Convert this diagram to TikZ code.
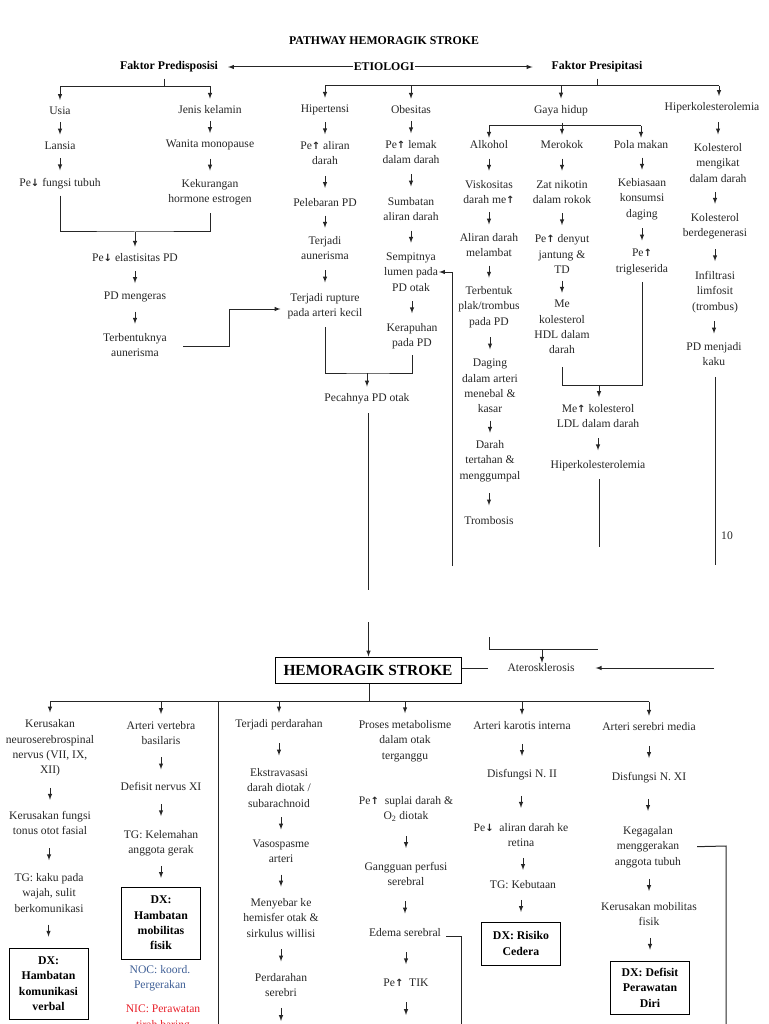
\documentclass[tikz,border=0pt]{standalone}
\usepackage{fontspec}
\setmainfont{Liberation Serif}
\newfontfamily\panahfont{DejaVu Sans}
\usetikzlibrary{calc}
\newcommand{\naik}{{\panahfont\bfseries\fontsize{10}{10}\selectfont ↑}}
\newcommand{\turun}{{\panahfont\bfseries\fontsize{10}{10}\selectfont ↓}}
\definecolor{tinta}{HTML}{262626}
\definecolor{nocblue}{HTML}{3F5F96}
\definecolor{nicred}{HTML}{E8202A}
\tikzset{
  teks/.style={align=center,inner sep=1pt,yshift=-1pt,text=tinta,font=\fontsize{11.6}{15.4}\selectfont},
  judul/.style={teks,text=black,font=\fontsize{11.8}{15.4}\selectfont\bfseries},
  kotak/.style={judul,yshift=1pt,draw,line width=1pt,minimum width=79pt},
  garis/.style={line width=1pt,draw=tinta},
  pan/.style={garis,->,>=latex},
  cab/.style={pan,shorten >=6pt},
  arr/.style={pan,to path={($(\tikztotarget.north)!.5!(\tikztotarget.north |- \tikztostart.south)+(0,-6)$)--++(0,12)}}
}
\begin{document}
\begin{tikzpicture}[x=1pt,y=-1pt]
\useasboundingbox (0,0) rectangle (768,1024);
\node[judul] (title) at (384,40) {PATHWAY HEMORAGIK STROKE};
\node[judul] (etio) at (384,66) {ETIOLOGI};
\node[judul] (predis) at (169,66) {Faktor Predisposisi};
\node[judul] (presi) at (597,66) {Faktor Presipitasi};
\draw[pan,shorten >=9pt] (etio.west)--(predis.east);
\draw[pan,shorten >=18pt] (etio.east)--(presi.west);

\node[teks] (usia) at (60,110) {Usia};
\node[teks] (lansia) at (60,145) {Lansia};
\node[teks] (fungsi) at (60,183) {Pe\turun{} fungsi tubuh};
\node[teks] (jenis) at (210,109) {Jenis kelamin};
\node[teks] (wanita) at (210,144) {Wanita monopause};
\node[teks] (kurang) at (210,191) {Kekurangan\\hormone estrogen};
\node[teks] (elastis) at (135,257) {Pe\turun{} elastisitas PD};
\node[teks] (keras) at (135,296) {PD mengeras};
\node[teks] (bentuk) at (135,344) {Terbentuknya\\aunerisma};
\coordinate (a1) at (164,87);
\coordinate (a2) at (135,232);
\coordinate (a3) at (229,346);
\draw[garis] ([yshift=-5pt]predis.south -| a1)--(a1);
\draw[cab] (a1)-|(usia.north);
\draw[cab] (a1)-|(jenis.north);
\draw[arr] (usia) to (lansia);
\draw[arr] (lansia) to (fungsi);
\draw[arr] (jenis) to (wanita);
\draw[arr] (wanita) to (kurang);
\draw[garis] ([yshift=-5pt]fungsi.south)|-(a2)-|([yshift=-7pt]kurang.south);
\draw[cab] (a2)--(a2 |- elastis.north);
\draw[arr] (elastis) to (keras);
\draw[arr] (keras) to (bentuk);

\node[teks] (hiper) at (325,109) {Hipertensi};
\node[teks] (aliran) at (325,152) {Pe\naik{} aliran\\darah};
\node[teks] (lebar) at (325,202) {Pelebaran PD};
\node[teks] (aune) at (325,247) {Terjadi\\aunerisma};
\node[teks] (rupture) at (325,305) {Terjadi rupture\\pada arteri kecil};
\node[teks] (obes) at (411,109) {Obesitas};
\node[teks] (lemak) at (411,151) {Pe\naik{} lemak\\dalam darah};
\node[teks] (sumbat) at (411,208) {Sumbatan\\aliran darah};
\node[teks] (sempit) at (411,271) {Sempitnya\\lumen pada\\PD otak};
\node[teks] (rapuh) at (412,335) {Kerapuhan\\pada PD};
\node[teks] (pecah) at (367,398) {Pecahnya PD otak};
\coordinate (b1) at (597,86);
\coordinate (b2) at (367,373);
\coordinate (b3) at (368.5,590);
\coordinate (b4) at (368.5,622);
\coordinate (b5) at (452,566);
\draw[pan,shorten <=15pt,shorten >=6pt] (bentuk.east |- a3)--(a3)|-([yshift=-3pt]rupture.west);
\draw[garis] ([yshift=-5pt]presi.south -| b1)--(b1);
\draw[cab] (b1)-|(hiper.north);
\draw[cab] (b1)-|(obes.north);
\draw[arr] (hiper) to (aliran);
\draw[arr] (aliran) to (lebar);
\draw[arr] (lebar) to (aune);
\draw[arr] (aune) to (rupture);
\draw[arr] (obes) to (lemak);
\draw[arr] (lemak) to (sumbat);
\draw[arr] (sumbat) to (sempit);
\draw[arr] (sempit) to (rapuh);
\draw[garis] ([yshift=-7pt]rupture.south)|-(b2)-|([yshift=-5pt]rapuh.south);
\draw[cab] (b2)--(b2 |- pecah.north);
\draw[garis,shorten <=8pt] (pecah.south -| b3)--(b3);
\draw[pan] (b5)|-(sempit.east);

\node[teks] (gaya) at (561,110) {Gaya hidup};
\node[teks] (alkohol) at (489,144) {Alkohol};
\node[teks] (visko) at (489,191) {Viskositas\\darah me\naik};
\node[teks] (lambat) at (489,244) {Aliran darah\\melambat};
\node[teks] (plak) at (489,306) {Terbentuk\\plak/trombus\\pada PD};
\node[teks] (daging) at (490,385) {Daging\\dalam arteri\\menebal \&\\kasar};
\node[teks] (tahan) at (490,460) {Darah\\tertahan \&\\menggumpal};
\node[teks] (trombo) at (489,520) {Trombosis};
\node[teks] (merokok) at (562,144) {Merokok};
\node[teks] (nikotin) at (562,191) {Zat nikotin\\dalam rokok};
\node[teks] (denyut) at (562,253) {Pe\naik{} denyut\\jantung \&\\TD};
\node[teks] (hdl) at (562,326) {Me\\kolesterol\\HDL dalam\\darah};
\node[teks] (pola) at (641,144) {Pola makan};
\node[teks] (biasa) at (642,198) {Kebiasaan\\konsumsi\\daging};
\node[teks] (trigli) at (642,261) {Pe\naik\\trigleserida};
\node[teks] (ldl) at (598,415) {Me\naik{} kolesterol\\LDL dalam darah};
\node[teks] (kolhiper) at (598,465) {Hiperkolesterolemia};
\coordinate (c1) at (489,126);
\coordinate (c2) at (641,126);
\coordinate (c3) at (642,385);
\coordinate (c4) at (562,367);
\coordinate (c5) at (599,385);
\coordinate (c6) at (599,547);
\draw[cab] (b1)-|(gaya.north);
\draw[garis] (c1)--(c2);
\draw[arr] (gaya) to (merokok);
\draw[cab,shorten >=2pt] (c1)--(alkohol.north);
\draw[cab,shorten >=2pt] (c2)--(pola.north);
\draw[arr] (alkohol) to (visko);
\draw[arr] (visko) to (lambat);
\draw[arr] (lambat) to (plak);
\draw[arr] (plak) to (daging);
\draw[arr] (daging) to (tahan);
\draw[arr] (tahan) to (trombo);
\draw[arr] (merokok) to (nikotin);
\draw[arr] (nikotin) to (denyut);
\draw[arr] (denyut) to (hdl);
\draw[arr] (pola) to (biasa);
\draw[arr] (biasa) to (trigli);
\draw[garis] ([yshift=-6pt]trigli.south)|-(c4 |- c3)--(c4);
\draw[cab] (c5)--(c5 |- ldl.north);
\draw[arr] (ldl) to (kolhiper);
\draw[garis,shorten <=7pt] (kolhiper.south -| c6)--(c6);

\node[teks] (kolest) at (712,107) {Hiperkolesterolemia};
\node[teks] (ikat) at (718,162) {Kolesterol\\mengikat\\dalam darah};
\node[teks] (degen) at (715,225) {Kolesterol\\berdegenerasi};
\node[teks] (infil) at (715,291) {Infiltrasi\\limfosit\\(trombus)};
\node[teks] (kaku) at (714,353) {PD menjadi\\kaku};
\node[teks] (nomor) at (727,535) {10};
\coordinate (d1) at (719,86);
\coordinate (d2) at (715,565);
\draw[garis] (hiper.north |- b1)--(d1);
\draw[pan] (d1)--++(0,10);
\draw[arr] (kolest) to (ikat);
\draw[arr] (ikat) to (degen);
\draw[arr] (degen) to (infil);
\draw[arr] (infil) to (kaku);
\draw[garis,shorten <=10pt] (kaku.south -| d2)--(d2);

\node[kotak,minimum width=186pt,minimum height=26pt,font=\fontsize{15.4}{18}\selectfont\bfseries] (stroke) at (368,670) {HEMORAGIK STROKE};
\node[teks] (atero) at (541,667) {Aterosklerosis};
\coordinate (e1) at (714,667);
\coordinate (e2) at (489,637);
\coordinate (e3) at (598,649);
\coordinate (e4) at (542,649);
\draw[pan] (b4)--(stroke.north -| b4);
\draw[garis,shorten >=18pt] (stroke.east |- atero)--(atero.west);
\draw[pan,shorten >=20pt] (atero.east -| e1)--(atero.east);
\draw[garis] (e2)|-(e3);
\draw[pan] (e4)--(e4 |- atero.north);
\coordinate (f1) at (50,701.5);
\coordinate (f2) at (649,701.5);
\coordinate (f3) at (218.5,701.5);
\coordinate (f4) at (218.5,1024);
\coordinate (f5) at (369,701.5);
\draw[garis] (f1)--(f2);
\draw[garis] (f5 |- stroke.south)--(f5);
\draw[garis] (f3)--(f4);

\node[teks] (saraf) at (50,747) {Kerusakan\\neuroserebrospinal\\nervus (VII, IX,\\XII)};
\node[teks] (tonus) at (50,822) {Kerusakan fungsi\\tonus otot fasial};
\node[teks] (wajah) at (49,892) {TG: kaku pada\\wajah, sulit\\berkomunikasi};
\node[kotak,minimum height=71pt] (dxverbal) at (48.5,983.5) {DX:\\Hambatan\\komunikasi\\verbal};
\draw[cab] (f1)--(saraf.north);
\draw[arr] (saraf) to (tonus);
\draw[arr] (tonus) to (wajah);
\draw[arr] (wajah) to (dxverbal);

\node[teks] (vertebra) at (161,732) {Arteri vertebra\\basilaris};
\node[teks] (defisit) at (161,785) {Defisit nervus XI};
\node[teks] (lemah) at (161,842) {TG: Kelemahan\\anggota gerak};
\node[kotak,minimum height=72pt] (dxfisik) at (161,923) {DX:\\Hambatan\\mobilitas\\fisik};
\node[teks,text=nocblue] (noc) at (160,977) {NOC: koord.\\Pergerakan};
\node[teks,text=nicred] (nic) at (163,1017) {NIC: Perawatan\\tirah baring};
\draw[cab] (f1 -| vertebra)--(vertebra.north);
\draw[arr] (vertebra) to (defisit);
\draw[arr] (defisit) to (lemah);
\draw[arr] (lemah) to (dxfisik);

\node[teks] (darah) at (279,724) {Terjadi perdarahan};
\node[teks] (ekstra) at (279,787) {Ekstravasasi\\darah diotak /\\subarachnoid};
\node[teks] (vaso) at (281,850) {Vasospasme\\arteri};
\node[teks] (sebar) at (281,917) {Menyebar ke\\hemisfer otak \&\\sirkulus willisi};
\node[teks] (serebri) at (281,984) {Perdarahan\\serebri};
\coordinate (g1) at (281,1021);
\draw[cab] (f1 -| darah)--(darah.north);
\draw[arr] (darah) to (ekstra);
\draw[arr] (ekstra) to (vaso);
\draw[arr] (vaso) to (sebar);
\draw[arr] (sebar) to (serebri);
\draw[pan,shorten <=10pt] (serebri.south)--(g1);

\node[teks] (proses) at (405,740) {Proses metabolisme\\dalam otak\\terganggu};
\node[teks] (suplai) at (406,808) {Pe\naik{} \ suplai darah \&\\O\textsubscript{2} diotak};
\node[teks] (perfusi) at (406,873) {Gangguan perfusi\\serebral};
\node[teks] (edema) at (405,932) {Edema serebral};
\node[teks] (tik) at (406,982) {Pe\naik{} \ TIK};
\coordinate (h1) at (406,1015);
\coordinate (h2) at (461,936);
\coordinate (h3) at (461,1024);
\draw[cab] (f1 -| proses)--(proses.north);
\draw[arr] (suplai) to (perfusi);
\draw[arr] (perfusi) to (edema);
\draw[arr] (edema) to (tik);
\draw[pan,shorten <=14pt] (tik.south -| h1)--(h1);
\draw[garis,shorten <=4pt] (edema.east |- h2)--(h2)--(h3);

\node[teks] (karotis) at (522,725) {Arteri karotis interna};
\node[teks] (dua) at (522,774) {Disfungsi N. II};
\node[teks] (retina) at (521,834) {Pe\turun{} \ aliran darah ke\\retina};
\node[teks] (buta) at (523,884) {TG: Kebutaan};
\node[kotak,minimum height=43pt] (dxcedera) at (521,943.5) {DX: Risiko\\Cedera};
\draw[cab] (f1 -| karotis)--(karotis.north);
\draw[arr] (karotis) to (dua);
\draw[arr] (dua) to (retina);
\draw[arr] (retina) to (buta);
\draw[arr] (buta) to (dxcedera);

\node[teks] (media) at (649,726) {Arteri serebri media};
\node[teks] (sebelas) at (649,777) {Disfungsi N. XI};
\node[teks] (gagal) at (648,846) {Kegagalan\\menggerakan\\anggota tubuh};
\node[teks] (mobil) at (649,913) {Kerusakan mobilitas\\fisik};
\node[kotak,minimum height=53pt] (dxdiri) at (650,987.5) {DX: Defisit\\Perawatan\\Diri};
\coordinate (k1) at (726,846);
\coordinate (k2) at (726,1024);
\draw[cab] (f2)--(media.north);
\draw[arr] (media) to (sebelas);
\draw[arr] (sebelas) to (gagal);
\draw[arr] (gagal) to (mobil);
\draw[arr] (mobil) to (dxdiri);
\draw[garis,shorten <=15pt] (gagal.east)--(k1)--(k2);
\end{tikzpicture}
\end{document}
